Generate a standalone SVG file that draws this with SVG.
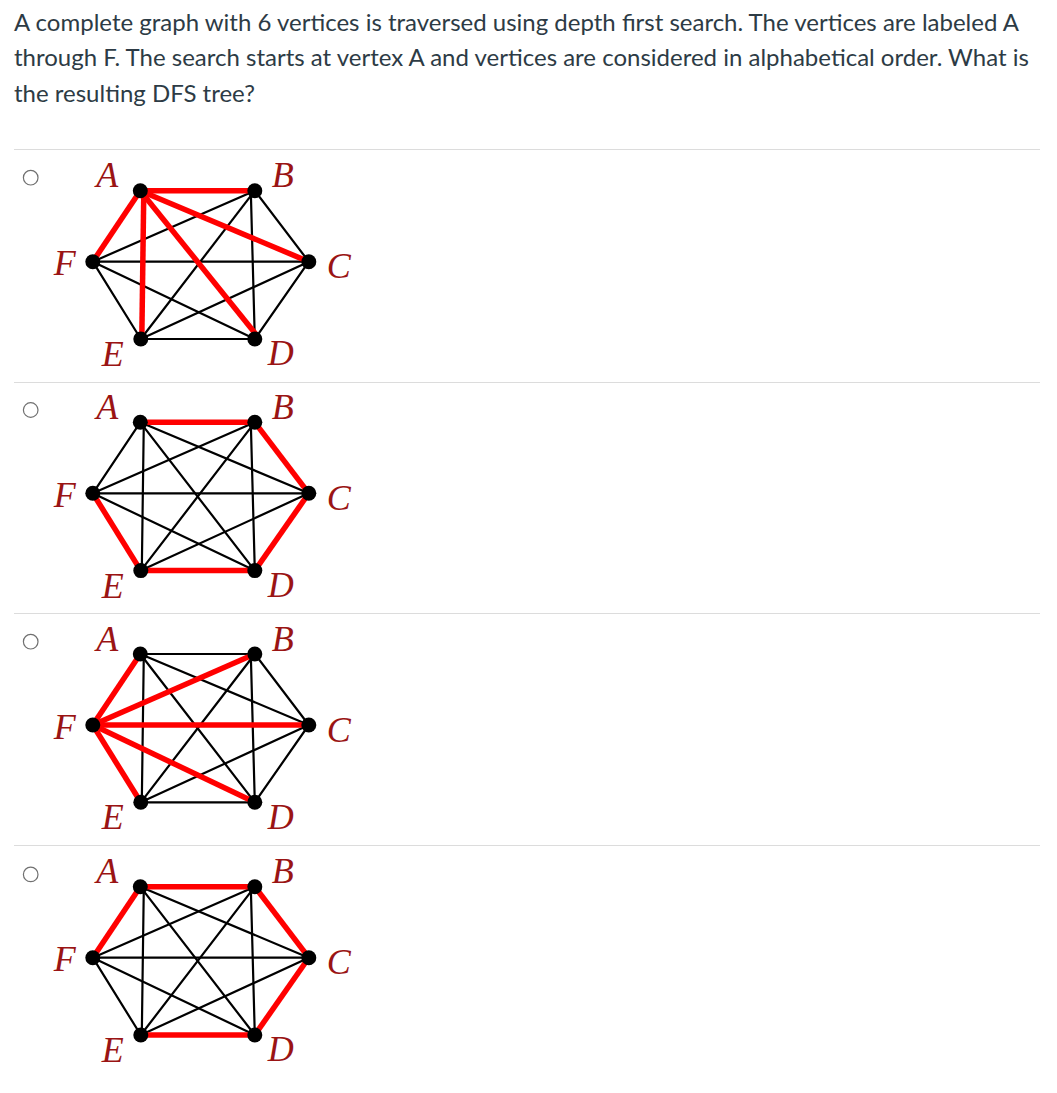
<svg xmlns="http://www.w3.org/2000/svg" width="1057" height="1093" viewBox="0 0 1057 1093">
<style>
.q{font-family:Lato,"Open Sans","Liberation Sans",sans-serif;font-size:24px;fill:#2d3b45}
.sep{stroke:#dcdcdc;stroke-width:1}
.radio{fill:#fff;stroke:#707070;stroke-width:1.2}
.e{stroke:#000;stroke-width:2.2;stroke-linecap:round;fill:none}
.r{stroke:#ff0000;stroke-width:5.5;stroke-linecap:butt;fill:none}
.v{fill:#000}
.lb{font-family:"Liberation Serif","Times New Roman",serif;font-style:italic;font-size:36px;fill:#9a1414;text-anchor:middle}
</style>
<rect width="1057" height="1093" fill="#fff"/>
<g id="question">
<text class="q" x="14" y="30.5">A complete graph with 6 vertices is traversed using depth first search. The vertices are labeled A</text>
<text class="q" x="14" y="66">through F. The search starts at vertex A and vertices are considered in alphabetical order. What is</text>
<text class="q" x="14" y="101.5">the resulting DFS tree?</text>
</g>
<g id="separators">
<line class="sep" x1="14" y1="149.5" x2="1040" y2="149.5"/>
<line class="sep" x1="14" y1="382.5" x2="1040" y2="382.5"/>
<line class="sep" x1="14" y1="613.5" x2="1040" y2="613.5"/>
<line class="sep" x1="14" y1="845.5" x2="1040" y2="845.5"/>
</g>

<!-- Option 1 -->
<g id="option1" transform="translate(140.3,190.7)">
<circle class="radio" cx="-109.6" cy="-13" r="7.3"/>
<g id="o1-edges">
<line class="e" x1="114.5" y1="0" x2="168.5" y2="71"/>
<line class="e" x1="110.5" y1="0" x2="114.5" y2="148.3"/>
<line class="e" x1="114.5" y1="0" x2="0.5" y2="148.3"/>
<line class="e" x1="114.5" y1="0" x2="-47.5" y2="71"/>
<line class="e" x1="168.5" y1="71" x2="114.5" y2="148.3"/>
<line class="e" x1="168.5" y1="71" x2="0.5" y2="148.3"/>
<line class="e" x1="168.5" y1="71" x2="-47.5" y2="71"/>
<line class="e" x1="114.5" y1="148.3" x2="0.5" y2="148.3"/>
<line class="e" x1="114.5" y1="148.3" x2="-47.5" y2="71"/>
<line class="e" x1="0.5" y1="148.3" x2="-47.5" y2="71"/>
<line class="r" x1="0" y1="0" x2="114.5" y2="0"/>
<line class="r" x1="0" y1="0" x2="168.5" y2="71"/>
<line class="r" x1="0" y1="0" x2="116" y2="144"/>
<line class="r" x1="3.5" y1="0" x2="1.5" y2="148.3"/>
<line class="r" x1="0" y1="0" x2="-47.5" y2="71"/>
</g>
<g id="o1-A"><circle class="v" cx="0" cy="0" r="7.5"/><text class="lb" x="-33" y="-3.5">A</text></g>
<g id="o1-B"><circle class="v" cx="114.5" cy="0" r="7.5"/><text class="lb" x="142.5" y="-3.5">B</text></g>
<g id="o1-C"><circle class="v" cx="168.5" cy="71" r="7.5"/><text class="lb" x="198.5" y="87.5">C</text></g>
<g id="o1-D"><circle class="v" cx="114.5" cy="148.3" r="7.5"/><text class="lb" x="140.5" y="174.8">D</text></g>
<g id="o1-E"><circle class="v" cx="0.5" cy="148.3" r="7.5"/><text class="lb" x="-27.5" y="175.3">E</text></g>
<g id="o1-F"><circle class="v" cx="-47.5" cy="71" r="7.5"/><text class="lb" x="-75.5" y="84.5">F</text></g>
</g>

<!-- Option 2 -->
<g id="option2" transform="translate(140.3,422.3)">
<circle class="radio" cx="-109.6" cy="-12.3" r="7.3"/>
<g id="o2-edges">
<line class="e" x1="0" y1="0" x2="168.5" y2="71"/>
<line class="e" x1="0" y1="0" x2="114.5" y2="148.3"/>
<line class="e" x1="3.5" y1="0" x2="1.5" y2="148.3"/>
<line class="e" x1="0" y1="0" x2="-47.5" y2="71"/>
<line class="e" x1="110.5" y1="0" x2="114.5" y2="148.3"/>
<line class="e" x1="114.5" y1="0" x2="0.5" y2="148.3"/>
<line class="e" x1="114.5" y1="0" x2="-47.5" y2="71"/>
<line class="e" x1="168.5" y1="71" x2="0.5" y2="148.3"/>
<line class="e" x1="168.5" y1="71" x2="-47.5" y2="71"/>
<line class="e" x1="114.5" y1="148.3" x2="-47.5" y2="71"/>
<line class="r" x1="0" y1="0" x2="114.5" y2="0"/>
<line class="r" x1="114.5" y1="0" x2="168.5" y2="71"/>
<line class="r" x1="168.5" y1="71" x2="114.5" y2="148.3"/>
<line class="r" x1="114.5" y1="148.3" x2="0.5" y2="148.3"/>
<line class="r" x1="0.5" y1="148.3" x2="-47.5" y2="71"/>
</g>
<g id="o2-A"><circle class="v" cx="0" cy="0" r="7.5"/><text class="lb" x="-33" y="-3.5">A</text></g>
<g id="o2-B"><circle class="v" cx="114.5" cy="0" r="7.5"/><text class="lb" x="142.5" y="-3.5">B</text></g>
<g id="o2-C"><circle class="v" cx="168.5" cy="71" r="7.5"/><text class="lb" x="198.5" y="87.5">C</text></g>
<g id="o2-D"><circle class="v" cx="114.5" cy="148.3" r="7.5"/><text class="lb" x="140.5" y="174.8">D</text></g>
<g id="o2-E"><circle class="v" cx="0.5" cy="148.3" r="7.5"/><text class="lb" x="-27.5" y="175.3">E</text></g>
<g id="o2-F"><circle class="v" cx="-47.5" cy="71" r="7.5"/><text class="lb" x="-75.5" y="84.5">F</text></g>
</g>

<!-- Option 3 -->
<g id="option3" transform="translate(140.3,654)">
<circle class="radio" cx="-109.6" cy="-12.3" r="7.3"/>
<g id="o3-edges">
<line class="e" x1="0" y1="0" x2="114.5" y2="0"/>
<line class="e" x1="0" y1="0" x2="168.5" y2="71"/>
<line class="e" x1="0" y1="0" x2="114.5" y2="148.3"/>
<line class="e" x1="3.5" y1="0" x2="1.5" y2="148.3"/>
<line class="e" x1="114.5" y1="0" x2="168.5" y2="71"/>
<line class="e" x1="110.5" y1="0" x2="114.5" y2="148.3"/>
<line class="e" x1="114.5" y1="0" x2="0.5" y2="148.3"/>
<line class="e" x1="168.5" y1="71" x2="114.5" y2="148.3"/>
<line class="e" x1="168.5" y1="71" x2="0.5" y2="148.3"/>
<line class="e" x1="114.5" y1="148.3" x2="0.5" y2="148.3"/>
<line class="r" x1="0" y1="0" x2="-47.5" y2="71"/>
<line class="r" x1="114.5" y1="0" x2="-47.5" y2="71"/>
<line class="r" x1="168.5" y1="71" x2="-47.5" y2="71"/>
<line class="r" x1="114.5" y1="148.3" x2="-47.5" y2="71"/>
<line class="r" x1="0.5" y1="148.3" x2="-47.5" y2="71"/>
</g>
<g id="o3-A"><circle class="v" cx="0" cy="0" r="7.5"/><text class="lb" x="-33" y="-3.5">A</text></g>
<g id="o3-B"><circle class="v" cx="114.5" cy="0" r="7.5"/><text class="lb" x="142.5" y="-3.5">B</text></g>
<g id="o3-C"><circle class="v" cx="168.5" cy="71" r="7.5"/><text class="lb" x="198.5" y="87.5">C</text></g>
<g id="o3-D"><circle class="v" cx="114.5" cy="148.3" r="7.5"/><text class="lb" x="140.5" y="174.8">D</text></g>
<g id="o3-E"><circle class="v" cx="0.5" cy="148.3" r="7.5"/><text class="lb" x="-27.5" y="175.3">E</text></g>
<g id="o3-F"><circle class="v" cx="-47.5" cy="71" r="7.5"/><text class="lb" x="-75.5" y="84.5">F</text></g>
</g>

<!-- Option 4 -->
<g id="option4" transform="translate(140.3,886.7)">
<circle class="radio" cx="-109.6" cy="-12.3" r="7.3"/>
<g id="o4-edges">
<line class="e" x1="0" y1="0" x2="168.5" y2="71"/>
<line class="e" x1="0" y1="0" x2="114.5" y2="148.3"/>
<line class="e" x1="3.5" y1="0" x2="1.5" y2="148.3"/>
<line class="e" x1="110.5" y1="0" x2="114.5" y2="148.3"/>
<line class="e" x1="114.5" y1="0" x2="0.5" y2="148.3"/>
<line class="e" x1="114.5" y1="0" x2="-47.5" y2="71"/>
<line class="e" x1="168.5" y1="71" x2="0.5" y2="148.3"/>
<line class="e" x1="168.5" y1="71" x2="-47.5" y2="71"/>
<line class="e" x1="114.5" y1="148.3" x2="-47.5" y2="71"/>
<line class="e" x1="0.5" y1="148.3" x2="-47.5" y2="71"/>
<line class="r" x1="0" y1="0" x2="114.5" y2="0"/>
<line class="r" x1="114.5" y1="0" x2="168.5" y2="71"/>
<line class="r" x1="168.5" y1="71" x2="114.5" y2="148.3"/>
<line class="r" x1="114.5" y1="148.3" x2="0.5" y2="148.3"/>
<line class="r" x1="0" y1="0" x2="-47.5" y2="71"/>
</g>
<g id="o4-A"><circle class="v" cx="0" cy="0" r="7.5"/><text class="lb" x="-33" y="-3.5">A</text></g>
<g id="o4-B"><circle class="v" cx="114.5" cy="0" r="7.5"/><text class="lb" x="142.5" y="-3.5">B</text></g>
<g id="o4-C"><circle class="v" cx="168.5" cy="71" r="7.5"/><text class="lb" x="198.5" y="87.5">C</text></g>
<g id="o4-D"><circle class="v" cx="114.5" cy="148.3" r="7.5"/><text class="lb" x="140.5" y="174.8">D</text></g>
<g id="o4-E"><circle class="v" cx="0.5" cy="148.3" r="7.5"/><text class="lb" x="-27.5" y="175.3">E</text></g>
<g id="o4-F"><circle class="v" cx="-47.5" cy="71" r="7.5"/><text class="lb" x="-75.5" y="84.5">F</text></g>
</g>
</svg>
